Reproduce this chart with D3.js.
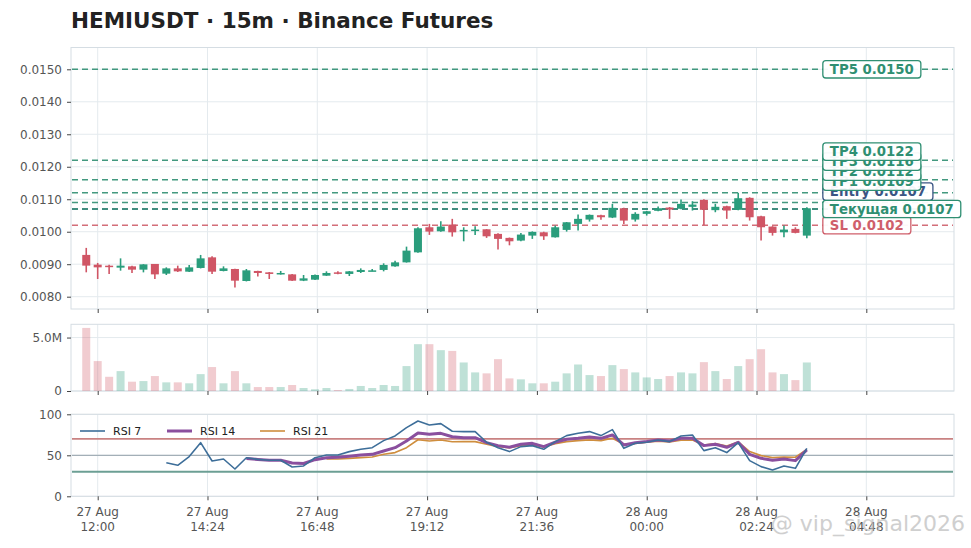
<!DOCTYPE html>
<html>
<head>
<meta charset="utf-8">
<script src="https://cdn.jsdelivr.net/npm/d3@7"></script>
<style>
  body { margin: 0; background: #fff; }
  svg { font-family: "DejaVu Sans", sans-serif; }
</style>
</head>
<body>
<svg id="chart" width="971" height="548"></svg>
<script>
// ---- data ----
var startTime = Date.UTC(2025, 7, 27, 11, 45);   // first candle, 15m bars
var opens  = [0.009286,0.008986,0.008955,0.008894,0.008934,0.008832,0.009008,0.008709,0.008872,0.008770,
              0.008884,0.009211,0.008792,0.008853,0.008483,0.008792,0.008749,0.008687,0.008687,0.008493,
              0.008524,0.008647,0.008749,0.008700,0.008760,0.008790,0.008823,0.008934,0.009057,0.009365,
              0.010137,0.010013,0.010220,0.010013,0.010034,0.010075,0.009933,0.009810,0.009727,0.009880,
              0.009982,0.009828,0.010056,0.010241,0.010374,0.010508,0.010436,0.010722,0.010374,0.010550,
              0.010643,0.010744,0.010707,0.010766,0.010981,0.010664,0.010785,0.010674,0.011043,0.010476,
              0.010158,0.009982,0.010087,0.009880];
var highs  = [0.009502,0.009039,0.008986,0.009180,0.008950,0.009000,0.009010,0.008903,0.008955,0.008977,
              0.009285,0.009242,0.008934,0.008860,0.008853,0.008800,0.008760,0.008792,0.008700,0.008668,
              0.008680,0.008780,0.008780,0.008790,0.008872,0.008853,0.009027,0.009110,0.009541,0.010137,
              0.010241,0.010322,0.010396,0.010137,0.010167,0.010080,0.009955,0.009820,0.009964,0.010010,
              0.010000,0.010189,0.010300,0.010528,0.010530,0.010520,0.010858,0.010735,0.010600,0.010640,
              0.010775,0.010760,0.010991,0.010938,0.011000,0.010858,0.010800,0.011197,0.011060,0.010490,
              0.010170,0.010189,0.010137,0.010753];
var lows   = [0.008750,0.008545,0.008700,0.008801,0.008730,0.008749,0.008545,0.008668,0.008760,0.008760,
              0.008870,0.008700,0.008780,0.008286,0.008470,0.008625,0.008545,0.008680,0.008480,0.008480,
              0.008510,0.008640,0.008690,0.008637,0.008730,0.008780,0.008780,0.008920,0.009050,0.009350,
              0.009902,0.010000,0.009850,0.009705,0.009902,0.009810,0.009449,0.009581,0.009710,0.009779,
              0.009748,0.009820,0.010004,0.010035,0.010312,0.010365,0.010420,0.010241,0.010312,0.010497,
              0.010630,0.010396,0.010690,0.010652,0.010210,0.010600,0.010396,0.010660,0.010343,0.009727,
              0.009880,0.009828,0.009950,0.009797];
var closes = [0.008956,0.008903,0.008925,0.008955,0.008832,0.008995,0.008687,0.008872,0.008780,0.008903,
              0.009180,0.008770,0.008872,0.008493,0.008811,0.008730,0.008700,0.008730,0.008493,0.008564,
              0.008668,0.008730,0.008709,0.008780,0.008823,0.008811,0.008977,0.009057,0.009418,0.010106,
              0.010004,0.010158,0.009982,0.010056,0.010066,0.009859,0.009779,0.009705,0.009912,0.009995,
              0.009859,0.010137,0.010291,0.010396,0.010519,0.010446,0.010735,0.010343,0.010550,0.010630,
              0.010722,0.010682,0.010858,0.010836,0.010674,0.010767,0.010652,0.011031,0.010445,0.010137,
              0.009964,0.010066,0.009964,0.010722];
var volumes = [5.9,2.8,1.33,1.86,0.87,0.93,1.4,0.81,0.81,0.72,1.58,2.24,0.72,1.86,0.72,0.37,0.37,0.37,0.56,0.28,
               0.16,0.28,0.09,0.19,0.47,0.28,0.56,0.47,2.33,4.38,4.38,3.82,3.75,2.67,1.74,1.65,2.98,1.18,1.09,0.72,
               0.72,0.87,1.65,2.48,1.49,1.4,2.42,2.05,1.74,1.27,1.12,1.4,1.74,1.65,2.7,1.86,1.12,2.33,2.98,3.91,
               1.74,1.58,1.02,2.67]; // millions
var rsi7  = [null,null,null,null,null,null,null,41,37.8,48.4,65.4,43,45.5,33.3,47,45,44,44,35.8,37,
             47,50.4,50.4,54.5,57.3,59.3,67.9,73.6,83.7,91.9,87,88.6,79.3,78.9,78.9,65.9,59.3,54.5,60.6,61.8,
             57.3,66.7,74,76.8,78.9,74,81.3,58.5,64.6,65.9,68.7,66.7,73.6,74.8,55.7,59.3,53.3,65.4,43.5,36.2,
             32.1,37,34.1,58.5];
var rsi14 = [null,null,null,null,null,null,null,null,null,null,null,null,null,null,46,45,44,44,40.7,40,
             44.7,47,47.5,48.8,50.4,51.2,55.3,59.3,67.5,77.2,75.6,76.8,72.6,71.5,71.5,65.4,61.8,59.8,63.4,64.6,
             60.6,65.9,69.5,70.7,72.4,70.7,74.8,62.6,65.4,66.7,68.7,67.5,70.7,70.7,61.8,63.4,59.8,65.9,51.2,46.3,
             43.9,45.5,43.5,56.5];
var rsi21 = [null,null,null,null,null,null,null,null,null,null,null,null,null,null,null,null,null,null,null,null,
             null,45.5,45.5,46.3,47.2,48,51.2,53.3,59.3,69,67.5,68.7,66.5,66.7,66.7,63.4,60.6,59.3,61.8,62.6,
             60.2,64.2,66.7,67.9,68.7,67.9,70.7,63.4,64.6,65.9,67.1,66.3,68.3,68.7,62.6,64.2,61.4,66.3,54.5,49.6,
             47.2,48,47.6,57.3];

var levelNames  = ["TP5", "TP4", "TP3", "TP2", "TP1", "Entry", "SL"];
var levelValues = [0.0150, 0.0122, 0.0116, 0.0112, 0.0109, 0.0107, 0.0102];
var currentName = "Текущая";
var currentPrice = 0.0107;

var priceTicks = [0.0080, 0.0090, 0.0100, 0.0110, 0.0120, 0.0130, 0.0140, 0.0150];
var volTicks = [0, 5];
var rsiTicks = [0, 50, 100];
var rsiLevels = [70, 50, 30];
var timeTicks = [Date.UTC(2025,7,27,12,0), Date.UTC(2025,7,27,14,24), Date.UTC(2025,7,27,16,48),
                 Date.UTC(2025,7,27,19,12), Date.UTC(2025,7,27,21,36), Date.UTC(2025,7,28,0,0),
                 Date.UTC(2025,7,28,2,24), Date.UTC(2025,7,28,4,48)];

// ---- layout ----
var green = "#2a9d7c", red = "#d05565";
var tpColor = "#2f8f72", slColor = "#cf5f6b", entryColor = "#3b5584";
var left = 71, right = 954;
var pricePanel = [47.5, 309], volPanel = [324.3, 391], rsiPanel = [414.3, 496.3];

var svg = d3.select("#chart");
var candles = opens.map(function (o, i) {
    return { t: new Date(startTime + i * 15 * 60000), o: o, h: highs[i], l: lows[i], c: closes[i], v: volumes[i] };
});

var x = d3.scaleUtc()
        .domain([new Date(Date.UTC(2025,7,27,11,25)), new Date(Date.UTC(2025,7,28,6,43))])
        .range([left, right]);
var step = x(new Date(startTime + 15 * 60000)) - x(new Date(startTime));
var bw = step * 0.7;

var yP = d3.scaleLinear().domain([0.007621, 0.015671]).range([pricePanel[1], pricePanel[0]]);
var yV = d3.scaleLinear().domain([0, 6.24]).range([volPanel[1], volPanel[0]]);
var yR = d3.scaleLinear().domain([0, 100]).range([rsiPanel[1], rsiPanel[0]]);

// title
svg.append("text")
        .attr("x", 71).attr("y", 28)
        .attr("font-size", 21.5).attr("font-weight", "bold").attr("fill", "#222")
        .text("HEMIUSDT · 15m · Binance Futures");

function panel(range, yScale, ticks, fmt) {
    var g = svg.append("g");
    // grid
    g.selectAll("line.hg").data(ticks).enter().append("line")
            .attr("x1", left).attr("x2", right)
            .attr("y1", function (d) { return yScale(d); })
            .attr("y2", function (d) { return yScale(d); })
            .attr("stroke", "#e4eaee").attr("stroke-width", 1);
    g.selectAll("line.vg").data(timeTicks).enter().append("line")
            .attr("x1", function (d) { return x(d); }).attr("x2", function (d) { return x(d); })
            .attr("y1", range[0]).attr("y2", range[1])
            .attr("stroke", "#e4eaee").attr("stroke-width", 1);
    g.append("rect")
            .attr("x", left).attr("y", range[0])
            .attr("width", right - left).attr("height", range[1] - range[0])
            .attr("fill", "none").attr("stroke", "#d5dde3").attr("stroke-width", 1);
    // axes
    var ya = svg.append("g").attr("transform", "translate(" + left + ",0)")
            .call(d3.axisLeft(yScale).tickValues(ticks).tickFormat(fmt).tickSize(4).tickPadding(5));
    var xa = svg.append("g").attr("transform", "translate(0," + range[1] + ")")
            .call(d3.axisBottom(x).tickValues(timeTicks.map(function (d) { return new Date(d); }))
                    .tickFormat("").tickSize(4));
    [ya, xa].forEach(function (a) {
        a.select(".domain").remove();
        a.selectAll(".tick line").attr("stroke", "#444");
        a.selectAll(".tick text").attr("fill", "#555").attr("font-size", 12)
                .attr("font-family", "DejaVu Sans, sans-serif");
    });
    return g;
}

panel(pricePanel, yP, priceTicks, d3.format(".4f"));
panel(volPanel, yV, volTicks, function (d) { return d === 0 ? "0" : d3.format(".1f")(d) + "M"; });
panel(rsiPanel, yR, rsiTicks, d3.format("d"));

// x tick labels (two lines) under the RSI panel
var fmtDay = d3.utcFormat("%d %b"), fmtHm = d3.utcFormat("%H:%M");
var xl = svg.append("g").selectAll("text").data(timeTicks).enter().append("text")
        .attr("x", function (d) { return x(d); })
        .attr("text-anchor", "middle").attr("font-size", 12).attr("fill", "#555");
xl.append("tspan").attr("x", function (d) { return x(d); }).attr("y", 516)
        .text(function (d) { return fmtDay(new Date(d)); });
xl.append("tspan").attr("x", function (d) { return x(d); }).attr("y", 531)
        .text(function (d) { return fmtHm(new Date(d)); });

// ---- level lines ----
function levelColor(name) {
    if (name === "SL") return slColor;
    if (name === "Entry") return entryColor;
    return tpColor;
}
var levels = levelNames.map(function (n, i) { return { name: n, v: levelValues[i], color: levelColor(n) }; });
var gl = svg.append("g");
gl.selectAll("line").data(levels).enter().append("line")
        .attr("x1", left + 1).attr("x2", right - 1)
        .attr("y1", function (d) { return yP(d.v); }).attr("y2", function (d) { return yP(d.v); })
        .attr("stroke", function (d) { return d.color; })
        .attr("stroke-width", 1.6).attr("stroke-dasharray", "6,4").attr("opacity", 0.9);
gl.append("line")
        .attr("x1", left + 1).attr("x2", right - 1)
        .attr("y1", yP(currentPrice)).attr("y2", yP(currentPrice))
        .attr("stroke", tpColor).attr("stroke-width", 1.6).attr("stroke-dasharray", "6,4");

// ---- candles ----
var gc = svg.append("g");
gc.selectAll("line").data(candles).enter().append("line")
        .attr("x1", function (d) { return x(d.t); }).attr("x2", function (d) { return x(d.t); })
        .attr("y1", function (d) { return yP(d.h); }).attr("y2", function (d) { return yP(d.l); })
        .attr("stroke", function (d) { return d.c >= d.o ? green : red; })
        .attr("stroke-width", 1.6);
gc.selectAll("rect").data(candles).enter().append("rect")
        .attr("x", function (d) { return x(d.t) - bw / 2; })
        .attr("width", bw)
        .attr("y", function (d) { return yP(Math.max(d.o, d.c)); })
        .attr("height", function (d) { return Math.max(1.5, Math.abs(yP(d.o) - yP(d.c))); })
        .attr("fill", function (d) { return d.c >= d.o ? green : red; });

// ---- volume ----
svg.append("g").selectAll("rect").data(candles).enter().append("rect")
        .attr("x", function (d) { return x(d.t) - bw / 2; })
        .attr("width", bw)
        .attr("y", function (d) { return yV(d.v); })
        .attr("height", function (d) { return yV(0) - yV(d.v); })
        .attr("fill", function (d) { return d.c >= d.o ? green : red; })
        .attr("opacity", 0.3);

// ---- RSI ----
var rsiLevelColors = ["#c98282", "#a3afb7", "#6c9f94"];
var rsiLevelWidths = [1.6, 1.2, 2];
svg.append("g").selectAll("line").data(rsiLevels).enter().append("line")
        .attr("x1", left + 1).attr("x2", right - 1)
        .attr("y1", function (d) { return yR(d); }).attr("y2", function (d) { return yR(d); })
        .attr("stroke", function (d, i) { return rsiLevelColors[i]; })
        .attr("stroke-width", function (d, i) { return rsiLevelWidths[i]; });

var rsiSeries = [
    { name: "RSI 7", values: rsi7, color: "#3d6e99", width: 1.6 },
    { name: "RSI 14", values: rsi14, color: "#8a4f9e", width: 3 },
    { name: "RSI 21", values: rsi21, color: "#cf8e3e", width: 1.6 }
];
var rsiLine = d3.line()
        .defined(function (d) { return d.v !== null; })
        .x(function (d) { return x(d.t); })
        .y(function (d) { return yR(d.v); });
var drawOrder = [2, 1, 0];
drawOrder.forEach(function (k) {
    var s = rsiSeries[k];
    svg.append("path")
            .datum(s.values.map(function (v, i) { return { t: candles[i].t, v: v }; }))
            .attr("d", rsiLine)
            .attr("fill", "none")
            .attr("stroke", s.color)
            .attr("stroke-width", s.width)
            .attr("stroke-linejoin", "round");
});

// legend
var lgX = [80, 167, 260];
var lg = svg.append("g").selectAll("g").data(rsiSeries).enter().append("g")
        .attr("transform", function (d, i) { return "translate(" + lgX[i] + ",431)"; });
lg.append("line").attr("x1", 0).attr("x2", 25).attr("y1", 0).attr("y2", 0)
        .attr("stroke", function (d) { return d.color; })
        .attr("stroke-width", function (d) { return d.width; });
lg.append("text").attr("x", 33).attr("y", 4).attr("font-size", 11).attr("fill", "#222")
        .text(function (d) { return d.name; });

// ---- level labels (stacked so they do not cover each other) ----
var curY = yP(currentPrice);
var boxH = 17.4, stackGap = 10;
var above = levels.filter(function (d) { return d.name !== "SL"; })
        .sort(function (a, b) { return a.v - b.v; });
var prev = curY, gap = boxH;
above.forEach(function (d) {
    d.ly = Math.min(yP(d.v), prev - gap);
    prev = d.ly;
    gap = stackGap;
});
levels.filter(function (d) { return d.name === "SL"; }).forEach(function (d) {
    d.ly = Math.max(yP(d.v), curY + 14);
});
var current = { name: currentName, v: currentPrice, color: tpColor, ly: curY };
var labelOrder = ["SL", "Entry", "TP1", "TP2", "TP3", "TP4", "TP5"].map(function (n) {
    return levels.filter(function (d) { return d.name === n; })[0];
}).concat([current]);

var labelX = x(candles[candles.length - 1].t) + 16;
labelOrder.forEach(function (d) {
    var g = svg.append("g");
    var t = g.append("text")
            .attr("x", labelX + 7).attr("y", d.ly + 4.8)
            .attr("font-size", 13.3).attr("font-weight", "bold")
            .attr("fill", d.color)
            .text(d.name + " " + d3.format(".4f")(d.v));
    var w = t.node().getComputedTextLength();
    g.insert("rect", "text")
            .attr("x", labelX).attr("y", d.ly - boxH / 2)
            .attr("width", w + 14).attr("height", boxH)
            .attr("rx", 3)
            .attr("fill", "#fff").attr("fill-opacity", 0.95)
            .attr("stroke", d.color).attr("stroke-width", 1.3);
});

// watermark
svg.append("text")
        .attr("x", 965).attr("y", 531).attr("text-anchor", "end")
        .attr("font-size", 22).attr("fill", "#bbb").attr("opacity", 0.7)
        .text("@ vip_signal2026");
</script>
</body>
</html>
